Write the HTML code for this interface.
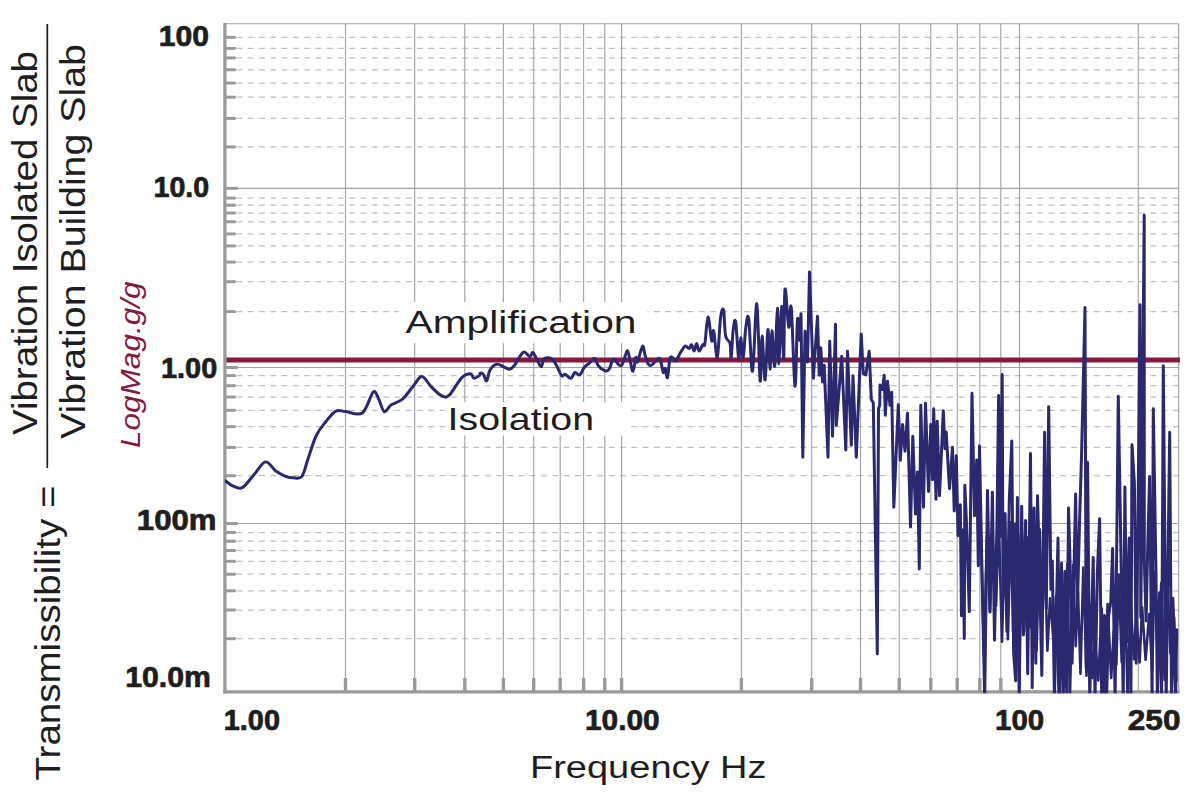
<!DOCTYPE html>
<html lang="en"><head><meta charset="utf-8"><title>Transmissibility</title>
<style>
html,body{margin:0;padding:0;background:#fff;}
body{width:1200px;height:795px;overflow:hidden;}
svg{display:block;}
text{font-family:"Liberation Sans",Arial,Helvetica,sans-serif;fill:#1e1e1e;}
.b{font-weight:700;stroke:#1e1e1e;stroke-width:0.7px;stroke-linejoin:round;}
</style></head><body>
<svg width="1200" height="795" viewBox="0 0 1200 795">
<rect x="0" y="0" width="1200" height="795" fill="#ffffff"/>
<defs><clipPath id="plotclip"><rect x="224.9" y="23.7" width="956.1" height="669.5"/></clipPath></defs>
<g stroke="#c0c0c0" stroke-width="1.25" stroke-dasharray="5.9 5.38" fill="none">
<line x1="236.5" y1="37.3" x2="1178.7" y2="37.3"/>
<line x1="236.5" y1="48.4" x2="1178.7" y2="48.4"/>
<line x1="236.5" y1="57.9" x2="1178.7" y2="57.9"/>
<line x1="236.5" y1="69.8" x2="1178.7" y2="69.8"/>
<line x1="236.5" y1="83.1" x2="1178.7" y2="83.1"/>
<line x1="236.5" y1="97.2" x2="1178.7" y2="97.2"/>
<line x1="236.5" y1="118.4" x2="1178.7" y2="118.4"/>
<line x1="236.5" y1="146.9" x2="1178.7" y2="146.9"/>
<line x1="236.5" y1="198.1" x2="1178.7" y2="198.1"/>
<line x1="236.5" y1="205.2" x2="1178.7" y2="205.2"/>
<line x1="236.5" y1="213.0" x2="1178.7" y2="213.0"/>
<line x1="236.5" y1="221.8" x2="1178.7" y2="221.8"/>
<line x1="236.5" y1="233.9" x2="1178.7" y2="233.9"/>
<line x1="236.5" y1="245.9" x2="1178.7" y2="245.9"/>
<line x1="236.5" y1="262.1" x2="1178.7" y2="262.1"/>
<line x1="236.5" y1="281.7" x2="1178.7" y2="281.7"/>
<line x1="236.5" y1="311.6" x2="1178.7" y2="311.6"/>
<line x1="236.5" y1="375.6" x2="1178.7" y2="375.6"/>
<line x1="236.5" y1="385.7" x2="1178.7" y2="385.7"/>
<line x1="236.5" y1="397.0" x2="1178.7" y2="397.0"/>
<line x1="236.5" y1="410.3" x2="1178.7" y2="410.3"/>
<line x1="236.5" y1="426.7" x2="1178.7" y2="426.7"/>
<line x1="236.5" y1="447.4" x2="1178.7" y2="447.4"/>
<line x1="236.5" y1="475.7" x2="1178.7" y2="475.7"/>
<line x1="236.5" y1="532.5" x2="1178.7" y2="532.5"/>
<line x1="236.5" y1="541.2" x2="1178.7" y2="541.2"/>
<line x1="236.5" y1="550.5" x2="1178.7" y2="550.5"/>
<line x1="236.5" y1="561.3" x2="1178.7" y2="561.3"/>
<line x1="236.5" y1="574.2" x2="1178.7" y2="574.2"/>
<line x1="236.5" y1="590.8" x2="1178.7" y2="590.8"/>
<line x1="236.5" y1="610.0" x2="1178.7" y2="610.0"/>
<line x1="236.5" y1="638.7" x2="1178.7" y2="638.7"/>
</g>
<g stroke="#a3a3a3" stroke-width="1.15" fill="none">
<line x1="224.9" y1="188.3" x2="1178.7" y2="188.3"/>
<line x1="224.9" y1="367.5" x2="1178.7" y2="367.5"/>
<line x1="224.9" y1="523.5" x2="1178.7" y2="523.5"/>
<line x1="224.9" y1="23.7" x2="1178.7" y2="23.7"/>
<line x1="345.5" y1="23.7" x2="345.5" y2="691.8"/>
<line x1="414.7" y1="23.7" x2="414.7" y2="691.8"/>
<line x1="464.8" y1="23.7" x2="464.8" y2="691.8"/>
<line x1="503.4" y1="23.7" x2="503.4" y2="691.8"/>
<line x1="533.7" y1="23.7" x2="533.7" y2="691.8"/>
<line x1="560.2" y1="23.7" x2="560.2" y2="691.8"/>
<line x1="583.6" y1="23.7" x2="583.6" y2="691.8"/>
<line x1="604.8" y1="23.7" x2="604.8" y2="691.8"/>
<line x1="621.6" y1="23.7" x2="621.6" y2="691.8"/>
<line x1="741.4" y1="23.7" x2="741.4" y2="691.8"/>
<line x1="811.7" y1="23.7" x2="811.7" y2="691.8"/>
<line x1="860.5" y1="23.7" x2="860.5" y2="691.8"/>
<line x1="899.2" y1="23.7" x2="899.2" y2="691.8"/>
<line x1="930.8" y1="23.7" x2="930.8" y2="691.8"/>
<line x1="957.2" y1="23.7" x2="957.2" y2="691.8"/>
<line x1="979.8" y1="23.7" x2="979.8" y2="691.8"/>
<line x1="1000.8" y1="23.7" x2="1000.8" y2="691.8"/>
<line x1="1019.5" y1="23.7" x2="1019.5" y2="691.8"/>
<line x1="1138.3" y1="23.7" x2="1138.3" y2="691.8"/>
<line x1="1178.7" y1="23.7" x2="1178.7" y2="691.8"/>
</g>
<rect x="399" y="302" width="248.5" height="41" fill="#ffffff"/>
<rect x="445" y="402" width="185" height="33.5" fill="#ffffff"/>
<g stroke="#999999" fill="none">
<line x1="224.9" y1="23.0" x2="224.9" y2="693.4" stroke-width="3.2"/>
<line x1="223.3" y1="691.8" x2="1179.5" y2="691.8" stroke-width="3.3"/>
<line x1="224.9" y1="37.3" x2="235.8" y2="37.3" stroke-width="3"/>
<line x1="224.9" y1="48.4" x2="235.8" y2="48.4" stroke-width="3"/>
<line x1="224.9" y1="57.9" x2="235.8" y2="57.9" stroke-width="3"/>
<line x1="224.9" y1="69.8" x2="235.8" y2="69.8" stroke-width="3"/>
<line x1="224.9" y1="83.1" x2="235.8" y2="83.1" stroke-width="3"/>
<line x1="224.9" y1="97.2" x2="235.8" y2="97.2" stroke-width="3"/>
<line x1="224.9" y1="118.4" x2="235.8" y2="118.4" stroke-width="3"/>
<line x1="224.9" y1="146.9" x2="235.8" y2="146.9" stroke-width="3"/>
<line x1="224.9" y1="198.1" x2="235.8" y2="198.1" stroke-width="3"/>
<line x1="224.9" y1="205.2" x2="235.8" y2="205.2" stroke-width="3"/>
<line x1="224.9" y1="213.0" x2="235.8" y2="213.0" stroke-width="3"/>
<line x1="224.9" y1="221.8" x2="235.8" y2="221.8" stroke-width="3"/>
<line x1="224.9" y1="233.9" x2="235.8" y2="233.9" stroke-width="3"/>
<line x1="224.9" y1="245.9" x2="235.8" y2="245.9" stroke-width="3"/>
<line x1="224.9" y1="262.1" x2="235.8" y2="262.1" stroke-width="3"/>
<line x1="224.9" y1="281.7" x2="235.8" y2="281.7" stroke-width="3"/>
<line x1="224.9" y1="311.6" x2="235.8" y2="311.6" stroke-width="3"/>
<line x1="224.9" y1="375.6" x2="235.8" y2="375.6" stroke-width="3"/>
<line x1="224.9" y1="385.7" x2="235.8" y2="385.7" stroke-width="3"/>
<line x1="224.9" y1="397.0" x2="235.8" y2="397.0" stroke-width="3"/>
<line x1="224.9" y1="410.3" x2="235.8" y2="410.3" stroke-width="3"/>
<line x1="224.9" y1="426.7" x2="235.8" y2="426.7" stroke-width="3"/>
<line x1="224.9" y1="447.4" x2="235.8" y2="447.4" stroke-width="3"/>
<line x1="224.9" y1="475.7" x2="235.8" y2="475.7" stroke-width="3"/>
<line x1="224.9" y1="532.5" x2="235.8" y2="532.5" stroke-width="3"/>
<line x1="224.9" y1="541.2" x2="235.8" y2="541.2" stroke-width="3"/>
<line x1="224.9" y1="550.5" x2="235.8" y2="550.5" stroke-width="3"/>
<line x1="224.9" y1="561.3" x2="235.8" y2="561.3" stroke-width="3"/>
<line x1="224.9" y1="574.2" x2="235.8" y2="574.2" stroke-width="3"/>
<line x1="224.9" y1="590.8" x2="235.8" y2="590.8" stroke-width="3"/>
<line x1="224.9" y1="610.0" x2="235.8" y2="610.0" stroke-width="3"/>
<line x1="224.9" y1="638.7" x2="235.8" y2="638.7" stroke-width="3"/>
<line x1="224.9" y1="188.3" x2="237.8" y2="188.3" stroke-width="3"/>
<line x1="224.9" y1="367.5" x2="237.8" y2="367.5" stroke-width="3"/>
<line x1="224.9" y1="523.5" x2="237.8" y2="523.5" stroke-width="3"/>
<line x1="345.5" y1="678.0" x2="345.5" y2="691.8" stroke-width="3.4"/>
<line x1="414.7" y1="678.0" x2="414.7" y2="691.8" stroke-width="3.4"/>
<line x1="464.8" y1="678.0" x2="464.8" y2="691.8" stroke-width="3.4"/>
<line x1="503.4" y1="678.0" x2="503.4" y2="691.8" stroke-width="3.4"/>
<line x1="533.7" y1="678.0" x2="533.7" y2="691.8" stroke-width="3.4"/>
<line x1="560.2" y1="678.0" x2="560.2" y2="691.8" stroke-width="3.4"/>
<line x1="583.6" y1="678.0" x2="583.6" y2="691.8" stroke-width="3.4"/>
<line x1="604.8" y1="678.0" x2="604.8" y2="691.8" stroke-width="3.4"/>
<line x1="621.6" y1="678.0" x2="621.6" y2="691.8" stroke-width="3.4"/>
<line x1="741.4" y1="678.0" x2="741.4" y2="691.8" stroke-width="3.4"/>
<line x1="811.7" y1="678.0" x2="811.7" y2="691.8" stroke-width="3.4"/>
<line x1="860.5" y1="678.0" x2="860.5" y2="691.8" stroke-width="3.4"/>
<line x1="899.2" y1="678.0" x2="899.2" y2="691.8" stroke-width="3.4"/>
<line x1="930.8" y1="678.0" x2="930.8" y2="691.8" stroke-width="3.4"/>
<line x1="957.2" y1="678.0" x2="957.2" y2="691.8" stroke-width="3.4"/>
<line x1="979.8" y1="678.0" x2="979.8" y2="691.8" stroke-width="3.4"/>
<line x1="1000.8" y1="678.0" x2="1000.8" y2="691.8" stroke-width="3.4"/>
<line x1="1019.5" y1="678.0" x2="1019.5" y2="691.8" stroke-width="3.4"/>
</g>
<line x1="226.4" y1="360" x2="1180" y2="360" stroke="#85193e" stroke-width="4.8" stroke-linecap="butt"/>
<path d="M225.2 480.8 C226.5 481.7 229.8 484.7 232.7 485.8 C235.6 487.0 238.6 489.5 242.3 487.6 C245.9 485.7 250.2 478.9 254.1 474.5 C258.1 470.2 261.8 462.6 265.4 461.9 C269.1 461.3 272.1 468.3 275.5 470.7 C278.9 473.2 282.6 475.1 285.6 476.3 C288.6 477.5 290.3 477.8 293.1 477.8 C295.9 477.8 299.4 479.6 301.9 476.3 C304.5 472.9 305.8 465.1 308.2 458.2 C310.7 451.2 313.3 441.7 316.3 435.5 C319.3 429.3 322.5 425.8 325.8 421.7 C329.2 417.5 332.6 412.8 335.9 411.1 C339.3 409.4 341.0 411.3 345.5 411.6 C350.0 411.9 357.6 416.2 362.3 412.9 C367.1 409.6 370.4 394.6 373.2 392.2 C376.0 389.9 376.8 395.7 378.7 399.0 C380.6 402.3 382.1 410.6 384.2 411.6 C386.4 412.6 388.2 406.9 391.3 404.8 C394.4 402.7 398.8 402.4 402.6 399.0 C406.5 395.7 410.6 389.0 413.9 385.2 C417.2 381.3 419.0 376.0 422.0 376.4 C425.0 376.7 428.2 383.9 431.6 387.2 C434.9 390.5 438.6 394.4 441.6 395.7 C444.6 397.1 445.8 398.3 449.2 395.2 C452.6 392.2 458.1 381.3 461.8 377.6 C465.4 374.0 468.5 373.8 470.6 373.8 C472.6 373.9 472.4 377.8 473.8 378.1 C475.3 378.4 478.3 376.4 479.4 375.6 C480.4 374.8 479.3 373.6 480.0 373.3 C480.7 373.1 482.2 372.9 483.3 374.2 C484.5 375.4 485.5 381.5 486.7 380.8 C487.8 380.1 488.3 372.8 490.0 370.0 C491.7 367.2 494.4 364.7 496.7 364.2 C498.9 363.6 501.2 365.8 503.3 366.7 C505.5 367.5 507.3 369.3 509.2 369.2 C511.0 369.0 512.5 367.8 514.2 365.8 C515.9 363.8 517.5 359.9 519.2 357.5 C520.9 355.1 522.3 352.1 524.2 352.0 C526.0 351.9 528.5 356.6 530.0 356.7 C531.5 356.8 531.7 351.8 533.0 352.5 C534.3 353.2 536.1 358.4 537.5 360.8 C538.9 363.2 540.2 367.0 541.3 366.7 C542.5 366.3 542.4 360.0 544.2 358.7 C545.9 357.3 549.5 357.4 551.7 358.7 C553.8 359.9 555.0 362.9 556.7 365.8 C558.4 368.8 560.2 374.4 561.7 375.8 C563.1 377.2 563.4 373.7 565.0 374.2 C566.6 374.6 569.1 378.6 570.8 378.3 C572.5 378.0 573.5 373.1 575.0 372.5 C576.5 371.9 578.1 375.9 579.7 375.0 C581.2 374.1 582.6 369.5 584.2 367.5 C585.8 365.5 587.4 364.9 589.2 363.3 C591.0 361.8 593.1 357.9 594.7 358.3 C596.2 358.8 596.6 363.7 598.3 365.8 C600.1 368.0 603.2 370.3 605.0 370.8 C606.8 371.4 607.8 371.2 609.2 369.2 C610.6 367.2 611.8 360.0 613.3 359.2 C614.9 358.3 616.9 363.1 618.3 364.2 C619.8 365.2 620.5 366.6 621.7 365.3 C622.8 364.1 624.0 359.1 625.0 356.7 C626.0 354.2 626.6 350.3 627.5 350.8 C628.4 351.4 629.1 356.5 630.0 360.0 C630.9 363.5 632.0 371.8 633.0 371.3 C634.0 370.9 635.1 359.1 635.8 357.5 C636.6 355.9 636.4 363.9 637.5 362.0 C638.6 360.1 641.2 347.5 642.5 346.3 C643.8 345.1 644.0 352.0 645.0 355.0 C646.0 358.0 647.2 362.5 648.3 364.2 C649.5 365.9 650.0 366.0 651.7 365.0 C653.4 364.0 656.8 358.9 658.3 358.3 C659.9 357.8 660.0 359.3 660.8 361.7 C661.7 364.1 662.6 371.4 663.3 372.5 C664.1 373.6 664.6 367.5 665.3 368.3 C666.0 369.2 666.7 379.2 667.5 377.5 C668.3 375.8 669.0 361.6 670.0 358.3 C671.0 355.1 672.3 357.9 673.3 358.3 C674.3 358.8 674.7 361.7 675.8 360.8 C677.0 360.0 679.0 355.0 680.0 353.3 C681.0 351.7 680.6 352.3 681.5 351.0 C682.4 349.8 684.0 346.4 685.3 346.0 C686.6 345.6 688.0 348.7 689.1 348.5 C690.2 348.3 690.7 344.3 691.6 344.7 C692.5 345.2 693.3 351.2 694.1 351.0 C695.0 350.8 695.8 343.5 696.6 343.5 C697.5 343.5 698.1 350.8 699.1 351.0 C700.2 351.2 701.9 346.0 702.9 344.7 C703.9 343.4 704.1 348.2 704.9 343.5 C705.8 338.8 706.8 317.5 708.0 317.0 C709.1 316.6 710.8 338.6 711.7 341.0 C712.7 343.3 712.8 328.1 713.7 330.9 C714.7 333.7 716.1 359.5 717.3 357.3 C718.4 355.2 719.5 326.3 720.5 318.3 C721.6 310.3 722.7 307.0 723.6 310.0 C724.4 313.0 724.5 330.2 725.6 335.9 C726.7 341.6 729.2 339.6 730.1 343.5 C731.0 347.3 730.6 360.7 731.1 358.6 C731.6 356.4 732.4 337.2 733.1 330.9 C733.9 324.6 734.7 316.9 735.6 321.6 C736.6 326.3 737.8 355.8 738.7 358.6 C739.5 361.4 739.9 338.1 740.7 337.9 C741.4 337.7 742.3 358.9 743.2 357.3 C744.1 355.7 744.8 334.9 745.7 328.4 C746.7 321.8 747.6 311.5 748.7 318.8 C749.9 326.1 751.1 373.7 752.5 371.2 C753.9 368.6 755.5 302.1 756.8 303.7 C758.1 305.3 759.2 375.2 760.1 380.7 C761.0 386.2 761.2 336.0 762.1 335.9 C762.9 335.8 764.1 381.0 765.1 380.0 C766.1 378.9 767.1 331.5 767.9 329.6 C768.7 327.8 769.2 368.9 769.9 369.1 C770.6 369.4 771.1 331.4 771.9 330.9 C772.7 330.4 773.7 370.0 774.7 366.1 C775.6 362.3 776.7 308.7 777.4 308.2 C778.2 307.8 778.2 363.9 778.9 363.6 C779.7 363.3 780.9 307.0 781.7 306.2 C782.5 305.4 783.1 361.5 783.7 358.7 C784.3 355.9 784.1 294.9 785.0 289.5 C785.9 284.1 787.6 323.9 788.7 327.0 C789.8 330.1 790.2 297.7 791.3 307.8 C792.4 317.9 793.9 384.2 795.0 386.2 C796.1 388.2 796.7 327.3 797.5 319.5 C798.3 311.7 799.1 341.3 799.7 340.3 L801.0 313.7 L802.8 457.3 L805.0 331.2 L807.5 362.0 L809.5 272.0 L813.3 378.3 L817.5 316.2 L819.2 375.3 L820.8 347.8 L822.5 382.0 L824.2 365.3 L828.0 457.3 L829.7 341.2 L832.5 436.2 L835.5 324.2 L836.3 425.3 L841.7 356.2 L845.8 450.0 L847.5 351.2 L851.3 445.3 L853.0 375.7 L856.3 457.3 L861.2 334.0 L863.3 373.7 L865.8 375.0 L869.2 351.2 L871.3 399.5 L873.3 402.8 L877.3 654.0 L878.5 408.7 L879.7 405.3 L880.0 385.0 L882.5 389.5 L884.2 375.3 L885.3 415.3 L887.5 381.2 L890.0 405.3 L891.7 392.3 L893.8 507.3 L898.3 404.8 L900.3 460.3 L902.5 424.5 L905.0 451.2 L907.5 413.2 L910.5 527.0 L912.8 436.2 L915.5 514.0 L917.5 472.0 L919.3 569.0 L920.8 405.3 L923.5 507.3 L925.5 403.3 L928.5 491.5 L930.8 424.5 L932.5 479.8 L933.7 408.7 L936.0 499.3 L937.2 421.2 L939.5 495.7 L943.3 410.7 L945.0 448.7 L946.2 432.0 L949.5 488.7 L952.5 447.3 L954.2 511.0 L956.3 455.7 L958.0 535.7 L960.3 504.8 L961.5 615.7 L962.8 530.0 L964.3 638.5 L964.8 485.3 L966.3 518.2 L969.3 611.8 L972.0 393.2 L974.5 515.7 L976.7 460.0 L978.3 565.7 L979.5 446.0 L981.9 568.0 L984.7 698.4 L987.5 490.5 L990.0 612.1 L992.4 492.2 L994.5 640.3 L997.0 522.2 L998.6 395.6 L1000.2 536.3 L1002.2 374.5 L1003.0 589.2 L1005.1 513.4 L1006.9 631.5 L1009.3 499.3 L1011.8 441.1 L1013.6 652.6 L1015.7 680.8 L1017.4 497.5 L1019.2 698.4 L1021.7 506.3 L1023.4 635.0 L1025.6 520.4 L1027.7 673.7 L1030.5 453.5 L1032.2 687.8 L1034.0 508.1 L1035.8 663.2 L1037.5 495.8 L1039.3 559.2 L1041.8 675.5 L1044.6 432.3 L1046.3 608.5 L1048.7 406.7 L1050.9 589.2 L1052.3 561.0 L1054.4 698.4 L1058.0 538.1 L1059.7 698.4 L1061.5 564.5 L1063.3 698.4 L1065.0 571.5 L1066.8 698.4 L1068.5 508.1 L1070.3 571.5 L1072.1 663.2 L1075.6 494.0 L1077.4 606.8 L1079.8 513.4 L1081.6 453.5 L1085.0 307.5 L1086.2 668.5 L1087.6 462.3 L1089.7 698.4 L1093.2 557.4 L1095.0 698.4 L1097.4 571.5 L1099.6 518.7 L1101.7 698.4 L1104.5 615.6 L1106.6 698.4 L1108.7 615.6 L1110.8 601.5 L1112.6 548.6 L1115.1 698.4 L1118.3 396.2 L1121.4 580.4 L1123.2 698.4 L1124.9 487.0 L1126.7 642.0 L1129.2 538.1 L1130.9 698.4 L1132.0 444.7 L1134.4 483.4 L1136.2 663.2 L1138.0 518.7 L1140.0 304.7 L1140.8 617.4 L1144.2 215.3 L1144.3 561.0 L1146.1 620.9 L1147.8 543.3 L1149.6 476.4 L1152.1 698.4 L1153.3 408.7 L1155.9 568.0 L1157.4 698.4 L1159.5 592.7 L1161.6 698.4 L1163.3 365.7 L1166.2 698.4 L1169.7 432.3 L1171.5 698.4 L1173.9 617.4 L1175.7 698.4 L1176.7 629.7" fill="none" stroke="#2a2970" stroke-width="3" stroke-linejoin="round" stroke-linecap="round" clip-path="url(#plotclip)"/>
<path d="M981.0 535.4 L984.0 655.5 L986.8 537.9 L989.9 611.1 L992.8 543.3 L996.1 605.6 L998.7 519.1 L1002.0 641.6 L1004.3 559.2 L1007.9 639.2 L1010.9 522.1 L1013.1 631.7 L1015.4 523.6 L1018.0 601.8 L1020.8 534.8 L1024.2 631.1 L1027.3 537.5 L1030.4 627.4 L1033.0 559.9 L1036.6 650.4 L1039.8 529.2 L1042.3 617.3 L1044.6 549.5 L1047.4 650.8 L1050.1 598.3 L1053.5 640.0 L1056.0 596.4 L1058.8 698.8 L1061.6 562.9 L1064.7 686.7 L1067.3 563.5 L1069.9 697.8 L1073.2 564.7 L1075.7 646.1 L1078.0 591.9 L1080.5 673.6 L1083.3 567.6 L1086.5 675.7 L1089.6 604.7 L1092.4 678.0 L1095.0 638.8 L1098.3 680.5 L1101.7 608.4 L1104.5 695.9 L1107.6 604.0 L1111.2 678.0 L1113.7 630.9 L1116.4 664.8 L1118.7 574.5 L1121.7 662.2 L1124.8 588.6 L1127.6 698.0 L1130.5 598.7 L1133.9 659.1 L1136.3 615.4 L1139.6 662.5 L1142.1 607.0 L1145.6 659.8 L1149.2 614.1 L1152.2 671.1 L1154.6 571.9 L1158.1 661.9 L1161.3 582.8 L1164.6 679.8 L1167.3 578.8 L1170.5 653.4 L1173.0 598.0 L1176.4 680.7" fill="none" stroke="#2a2970" stroke-width="2.6" stroke-linejoin="round" stroke-linecap="round" clip-path="url(#plotclip)"/>
<text x="158.8" y="46.3" font-size="29.0" textLength="50.2" lengthAdjust="spacingAndGlyphs" class="b">100</text>
<text x="153.5" y="197.3" font-size="29.0" textLength="55.7" lengthAdjust="spacingAndGlyphs" class="b">10.0</text>
<text x="161.0" y="378.2" font-size="29.0" textLength="56.2" lengthAdjust="spacingAndGlyphs" class="b">1.00</text>
<text x="136.8" y="530.3" font-size="29.0" textLength="79.7" lengthAdjust="spacingAndGlyphs" class="b">100m</text>
<text x="125.2" y="686.8" font-size="29.0" textLength="85.7" lengthAdjust="spacingAndGlyphs" class="b">10.0m</text>
<text x="223.8" y="730.0" font-size="29.0" textLength="56.2" lengthAdjust="spacingAndGlyphs" class="b">1.00</text>
<text x="585.0" y="730.0" font-size="29.0" textLength="74.7" lengthAdjust="spacingAndGlyphs" class="b">10.00</text>
<text x="995.0" y="730.0" font-size="29.0" textLength="49.2" lengthAdjust="spacingAndGlyphs" class="b">100</text>
<text x="1127.8" y="730.0" font-size="29.0" textLength="52.7" lengthAdjust="spacingAndGlyphs" class="b">250</text>
<text x="530.0" y="777.5" font-size="30.6" textLength="236.5" lengthAdjust="spacingAndGlyphs">Frequency Hz</text>
<text x="405.5" y="332.5" font-size="30.6" textLength="231.0" lengthAdjust="spacingAndGlyphs">Amplification</text>
<text x="447.6" y="429.5" font-size="31.2" textLength="146.5" lengthAdjust="spacingAndGlyphs">Isolation</text>
<text transform="translate(60.0 780.5) rotate(-90)" x="0" y="0" font-size="35.4" textLength="295.0" lengthAdjust="spacingAndGlyphs">Transmissibility =</text>
<text transform="translate(36.7 435.0) rotate(-90)" x="0" y="0" font-size="35.4" textLength="384.0" lengthAdjust="spacingAndGlyphs">Vibration Isolated Slab</text>
<text transform="translate(84.7 439.0) rotate(-90)" x="0" y="0" font-size="35.4" textLength="395.0" lengthAdjust="spacingAndGlyphs">Vibration Building Slab</text>
<line x1="47.3" y1="24" x2="47.3" y2="468" stroke="#1e1e1e" stroke-width="1.7"/>
<text transform="translate(140.2 448.0) rotate(-90)" x="0" y="0" font-size="27.2" textLength="166.5" lengthAdjust="spacingAndGlyphs" font-style="italic" style="fill:#85193e">LogMag.g/g</text>
</svg>
</body></html>
